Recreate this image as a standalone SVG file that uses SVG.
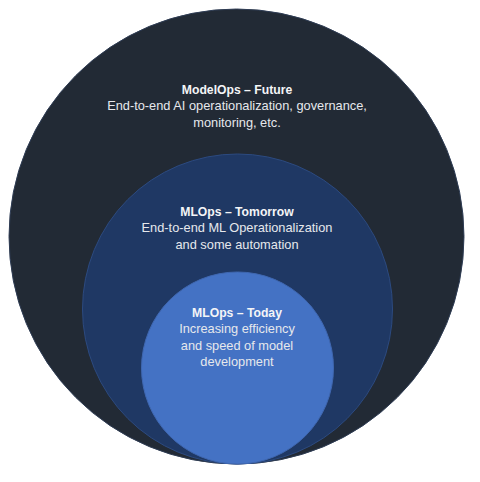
<svg xmlns="http://www.w3.org/2000/svg" width="480" height="482" viewBox="0 0 480 482">
<style>
.t{font-family:"Liberation Sans",Arial,sans-serif;font-size:12.8px;fill:#e6e8ec;text-anchor:middle}
.b{font-weight:bold;font-size:12.2px;fill:#f4f5f7}
</style>
<rect width="480" height="482" fill="#ffffff"/>
<g id="future">
<circle cx="236.5" cy="236.5" r="227.5" fill="#222a35" stroke="#2f3d55" stroke-width="1"/>
<text class="t b" x="237" y="94">ModelOps – Future</text>
<text class="t" x="237" y="110">End-to-end AI operationalization, governance,</text>
<text class="t" x="237" y="127">monitoring, etc.</text>
</g>
<g id="tomorrow">
<circle cx="237.5" cy="309" r="155" fill="#1f3864" stroke="#2c4a80" stroke-width="1"/>
<text class="t b" x="237" y="216">MLOps – Tomorrow</text>
<text class="t" x="237" y="232">End-to-end ML Operationalization</text>
<text class="t" x="237" y="249">and some automation</text>
</g>
<g id="today">
<circle cx="237.5" cy="368" r="96" fill="#4472c4" stroke="#3f67b0" stroke-width="1"/>
<text class="t b" x="237" y="317">MLOps – Today</text>
<text class="t" x="237" y="333">Increasing efficiency</text>
<text class="t" x="237" y="350">and speed of model</text>
<text class="t" x="237" y="366">development</text>
</g>
<g id="connectors"/>
</svg>
